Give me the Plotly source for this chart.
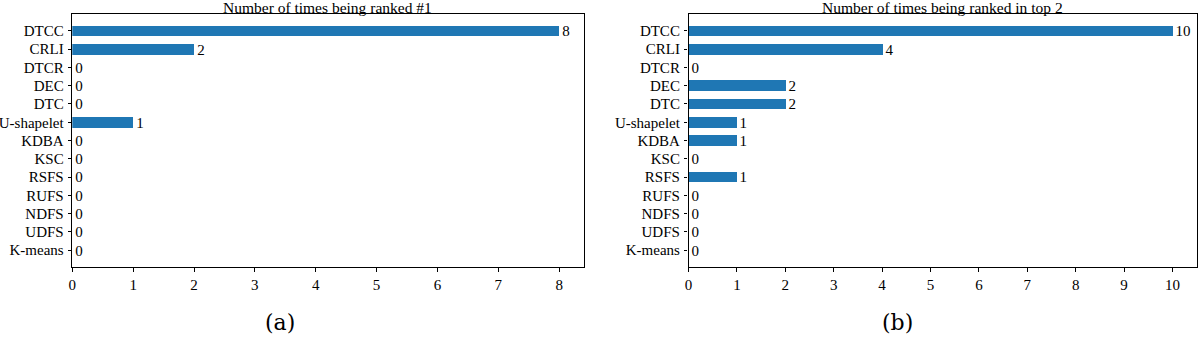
import plotly.graph_objects as go

methods = ["DTCC", "CRLI", "DTCR", "DEC", "DTC", "U-shapelet", "KDBA",
           "KSC", "RSFS", "RUFS", "NDFS", "UDFS", "K-means"]
rank1 = [8, 2, 0, 0, 0, 1, 0, 0, 0, 0, 0, 0, 0]
top2 = [10, 4, 0, 2, 2, 1, 1, 0, 1, 0, 0, 0, 0]
titles = ["Number of times being ranked #1", "Number of times being ranked in top 2"]
captions = ["(a)", "(b)"]

W, H = 1200, 337
FONT = "Liberation Serif"
BLUE = "#1f77b4"

fig = go.Figure()

panels = [
    dict(vals=rank1, xd=[72.3 / W, 583.5 / W], xr=[0, 8.4], ticks=list(range(0, 9)), cap_x=280),
    dict(vals=top2, xd=[688.5 / W, 1196.7 / W], xr=[0, 10.5], ticks=list(range(0, 11)), cap_x=897),
]
yd = [1 - 267 / H, 1 - 14 / H]

for i, p in enumerate(panels):
    xa = "x" if i == 0 else "x2"
    ya = "y" if i == 0 else "y2"
    fig.add_trace(go.Bar(
        x=p["vals"], y=list(range(len(methods))), orientation="h",
        width=0.6, marker=dict(color=BLUE, line=dict(width=0)),
        text=[str(v) for v in p["vals"]], textposition="outside",
        textfont=dict(family=FONT, size=15, color="black"),
        constraintext="none", cliponaxis=False,
        xaxis=xa, yaxis=ya, showlegend=False, hoverinfo="skip",
    ))
    axkey = "xaxis" if i == 0 else "xaxis2"
    aykey = "yaxis" if i == 0 else "yaxis2"
    fig.layout[axkey] = dict(
        domain=p["xd"], range=p["xr"], anchor=ya, tickmode="array",
        tickvals=p["ticks"], ticktext=[str(t) for t in p["ticks"]],
        showgrid=False, zeroline=False, showline=True, linecolor="black",
        linewidth=1.2, mirror=True, ticks="outside", ticklen=3.5, tickwidth=1,
        tickcolor="black", tickfont=dict(family=FONT, size=15, color="black"),
        automargin=False, fixedrange=True,
    )
    fig.layout[aykey] = dict(
        domain=yd, range=[12.93, -0.93], anchor=xa, tickmode="array",
        tickvals=list(range(len(methods))), ticktext=methods,
        showgrid=False, zeroline=False, showline=True, linecolor="black",
        linewidth=1.2, mirror=True, ticks="outside", ticklen=3.5, tickwidth=1,
        tickcolor="black", tickfont=dict(family=FONT, size=15, color="black"),
        ticklabelstandoff=1, automargin=False, fixedrange=True,
    )
    fig.add_annotation(
        text=titles[i], xref="paper", yref="paper",
        x=(p["xd"][0] + p["xd"][1]) / 2, y=1 - 7.5 / H, xanchor="center", yanchor="middle",
        showarrow=False, font=dict(family=FONT, size=15.5, color="black"),
        borderpad=0,
    )
    fig.add_annotation(
        text=captions[i], xref="paper", yref="paper",
        x=p["cap_x"] / W, y=1 - 322 / H, xanchor="center", yanchor="middle",
        showarrow=False, font=dict(family="DejaVu Serif", size=22, color="black"),
        borderpad=0,
    )

fig.update_layout(
    width=W, height=H, margin=dict(l=0, r=0, t=0, b=0, autoexpand=False),
    paper_bgcolor="white", plot_bgcolor="white", bargap=0,
)

fig.write_html("out.html", config={"displayModeBar": False},
               post_script="document.body.style.margin='0px';")
